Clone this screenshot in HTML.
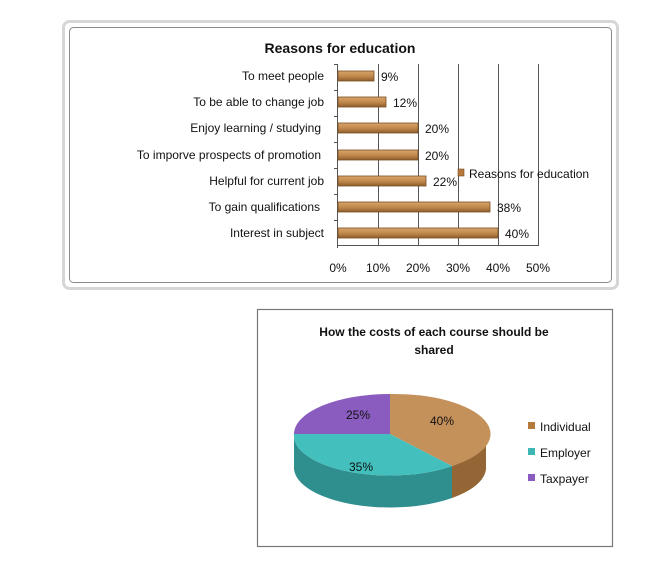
<!DOCTYPE html>
<html><head><meta charset="utf-8"><style>
html,body{margin:0;padding:0;background:#fff;}
svg{display:block;}
text{font-family:"Liberation Sans",sans-serif;fill:#111;}
</style></head><body>
<svg width="650" height="566" viewBox="0 0 650 566" xmlns="http://www.w3.org/2000/svg">
<defs>
<linearGradient id="bar" x1="0" y1="0" x2="0" y2="1">
<stop offset="0" stop-color="#d9a56a"/><stop offset="0.5" stop-color="#c28a4e"/><stop offset="1" stop-color="#8f5e2c"/>
</linearGradient>
</defs>
<!-- top chart frame -->
<rect x="63.5" y="21.5" width="554" height="267" rx="6" fill="#fff" stroke="#d6d6d6" stroke-width="3"/>
<rect x="69.5" y="27.5" width="542" height="255" rx="4" fill="#fff" stroke="#8a8a8a" stroke-width="1"/>
<text x="340" y="53" font-size="14" font-weight="bold" text-anchor="middle">Reasons for education</text>
<!-- gridlines -->
<g stroke="#555" stroke-width="1">
<line x1="378.5" y1="64" x2="378.5" y2="245"/>
<line x1="418.5" y1="64" x2="418.5" y2="245"/>
<line x1="458.5" y1="64" x2="458.5" y2="245"/>
<line x1="498.5" y1="64" x2="498.5" y2="245"/>
<line x1="538.5" y1="64" x2="538.5" y2="245"/>
<line x1="337.5" y1="64" x2="337.5" y2="248"/>
<line x1="337" y1="245.5" x2="539" y2="245.5"/>
<line x1="334" y1="64.5" x2="338" y2="64.5"/>
<line x1="334" y1="90.5" x2="338" y2="90.5"/>
<line x1="334" y1="116.5" x2="338" y2="116.5"/>
<line x1="334" y1="142.5" x2="338" y2="142.5"/>
<line x1="334" y1="168.5" x2="338" y2="168.5"/>
<line x1="334" y1="194.5" x2="338" y2="194.5"/>
<line x1="334" y1="220.5" x2="338" y2="220.5"/>
</g>
<!-- bars -->
<g fill="url(#bar)" stroke="#7a4e22" stroke-width="0.8">
<rect x="338" y="71" width="36" height="10"/>
<rect x="338" y="97" width="48" height="10"/>
<rect x="338" y="123" width="80" height="10"/>
<rect x="338" y="150" width="80" height="10"/>
<rect x="338" y="176" width="88" height="10"/>
<rect x="338" y="202" width="152" height="10"/>
<rect x="338" y="228" width="160" height="10"/>
</g>
<g font-size="12" text-anchor="end">
<text x="324" y="80">To meet people</text>
<text x="324" y="106">To be able to change job</text>
<text x="321" y="132">Enjoy learning / studying</text>
<text x="321" y="159">To imporve prospects of promotion</text>
<text x="324" y="185">Helpful for current job</text>
<text x="320" y="211">To gain qualifications</text>
<text x="324" y="237">Interest in subject</text>
</g>
<g font-size="12">
<text x="381" y="81">9%</text>
<text x="393" y="107">12%</text>
<text x="425" y="133">20%</text>
<text x="425" y="160">20%</text>
<text x="433" y="186">22%</text>
<text x="497" y="212">38%</text>
<text x="505" y="238">40%</text>
</g>
<rect x="458" y="169" width="6" height="7" fill="#b5793c" stroke="#7a4e22" stroke-width="0.6"/>
<text x="469" y="178" font-size="12">Reasons for education</text>
<g font-size="12" text-anchor="middle">
<text x="338" y="272">0%</text><text x="378" y="272">10%</text><text x="418" y="272">20%</text>
<text x="458" y="272">30%</text><text x="498" y="272">40%</text><text x="538" y="272">50%</text>
</g>

<!-- pie frame -->
<rect x="257.5" y="309.5" width="355" height="237" fill="#fff" stroke="#777" stroke-width="1.2"/>
<text x="434" y="336" font-size="12" font-weight="bold" text-anchor="middle">How the costs of each course should be</text>
<text x="434" y="354" font-size="12" font-weight="bold" text-anchor="middle">shared</text>
<!-- pie side -->
<path d="M294,434 L294,466 A96,40 0 0 0 452,498 L452,466 A96,40 0 0 1 294,434 Z" fill="#2f8f8f"/>
<path d="M452,466 L452,498 A96,40 0 0 0 486,466 L486,434 A96,40 0 0 1 452,466 Z" fill="#946636"/>
<!-- top faces -->
<path d="M390,434 L390,394 A96,40 0 0 1 452,466 Z" fill="#c5915a"/>
<path d="M390,434 L452,466 A96,40 0 0 1 294,434 Z" fill="#43c0bd"/>
<path d="M390,434 L294,434 A96,40 0 0 1 390,394 Z" fill="#8a5cc0"/>
<g font-size="12" text-anchor="middle">
<text x="442" y="425">40%</text>
<text x="361" y="471">35%</text>
<text x="358" y="419">25%</text>
</g>
<rect x="528" y="422" width="7" height="7" fill="#b5793c"/>
<text x="540" y="431" font-size="12">Individual</text>
<rect x="528" y="448" width="7" height="7" fill="#3fb8b5"/>
<text x="540" y="457" font-size="12">Employer</text>
<rect x="528" y="474" width="7" height="7" fill="#8a5cc0"/>
<text x="540" y="483" font-size="12">Taxpayer</text>
</svg>
</body></html>
